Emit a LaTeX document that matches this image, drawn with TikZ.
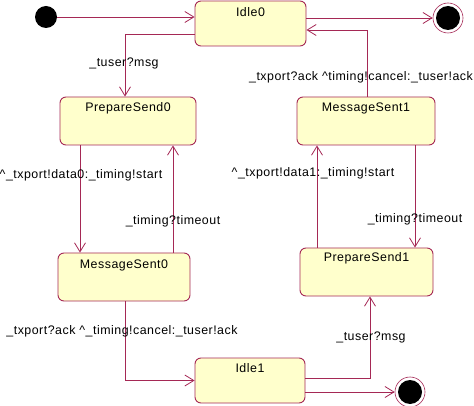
\documentclass[tikz,border=0pt]{standalone}
\usepackage{fontspec}
\setmainfont[LetterSpace=4]{Liberation Sans}
\usetikzlibrary{arrows.meta,calc}
\definecolor{umlred}{RGB}{165,40,85}
\definecolor{umlfill}{RGB}{255,255,204}
\begin{document}
\begin{tikzpicture}[x=1pt,y=-1pt,
  font=\fontsize{12.4}{14}\selectfont,
  state/.style={draw=umlred,fill=umlfill,line width=0.9pt,rounded corners=6pt,
    minimum width=#1,inner sep=0pt},
  tr/.style={draw=umlred,line width=0.8pt,-{Straight Barb[length=9pt,width=11pt,line width=0.8pt]}},
  lbl/.style={inner sep=0pt,text=black},
  stname/.style={inner sep=0pt,text=black}]
\useasboundingbox (0,0) rectangle (474,406);
% states
\node[state=111pt,minimum height=45pt] (Idle0) at (250.5,23.5) {};
\node[state=136pt,minimum height=48pt] (PS0) at (128,121) {};
\node[state=138pt,minimum height=48pt] (MS1) at (366,121) {};
\node[state=132pt,minimum height=48pt] (MS0) at (124,277) {};
\node[state=133pt,minimum height=48pt] (PS1) at (366.5,272) {};
\node[state=110pt,minimum height=45pt] (Idle1) at (250,380.5) {};
\node[stname] (tIdle0) at (250.5,12) {Idle0};
\node[stname] (tPS0) at (128,108) {PrepareSend0};
\node[stname] (tMS1) at (366,108) {MessageSent1};
\node[stname] (tMS0) at (124,265) {MessageSent0};
\node[stname] (tPS1) at (366.5,258) {PrepareSend1};
\node[stname] (tIdle1) at (250,368) {Idle1};
% pseudo states
\node[circle,fill=black,minimum size=22pt,inner sep=0pt] (init) at (46,17) {};
\node[circle,draw=umlred,line width=0.6pt,fill=white,minimum size=30pt,inner sep=0pt] (fin0) at (448,18) {};
\fill[black] (fin0.center) circle (12pt);
\node[circle,draw=umlred,line width=0.6pt,fill=white,minimum size=30pt,inner sep=0pt] (fin1) at (410,392) {};
\fill[black] (fin1.center) circle (12pt);
% transitions
\draw[tr] (init) -- (init -| Idle0.west);
\draw[tr] (Idle0.east |- fin0) -- (fin0);
\draw[tr] ([yshift=-10.5pt]Idle0.west) -| ([xshift=-3pt]PS0.north);
\draw[tr] ([xshift=1pt]MS1.north) |- ([yshift=-6.5pt]Idle0.east);
\draw[tr] ([xshift=-48pt]PS0.south) -- ([xshift=-48pt]PS0.south |- MS0.north);
\draw[tr] ([xshift=49pt]MS0.north) -- ([xshift=49pt]MS0.north |- PS0.south);
\draw[tr] ([xshift=-49.5pt]PS1.north) -- ([xshift=-49.5pt]PS1.north |- MS1.south);
\draw[tr] ([xshift=49pt]MS1.south) -- ([xshift=49pt]MS1.south |- PS1.north);
\draw[tr] ([xshift=1pt]MS0.south) |- (Idle1.west);
\draw[tr] ([yshift=2.5pt]Idle1.east) -| ([xshift=3.5pt]PS1.south);
\draw[tr] (Idle1.east |- fin1) -- (fin1);
% labels
\node[lbl] (l1) at (124,63) {\_tuser?msg};
\node[lbl] (l2) at (361,77) {\_txport?ack \textasciicircum timing!cancel:\_tuser!ack};
\node[lbl] (l3) at (81,175) {\textasciicircum\_txport!data0:\_timing!start};
\node[lbl] (l4) at (173,221) {\_timing?timeout};
\node[lbl] (l5) at (313,173) {\textasciicircum\_txport!data1:\_timing!start};
\node[lbl] (l6) at (415,219) {\_timing?timeout};
\node[lbl] (l7) at (122,331) {\_txport?ack \textasciicircum\_timing!cancel:\_tuser!ack};
\node[lbl] (l8) at (371,337) {\_tuser?msg};
\end{tikzpicture}
\end{document}
